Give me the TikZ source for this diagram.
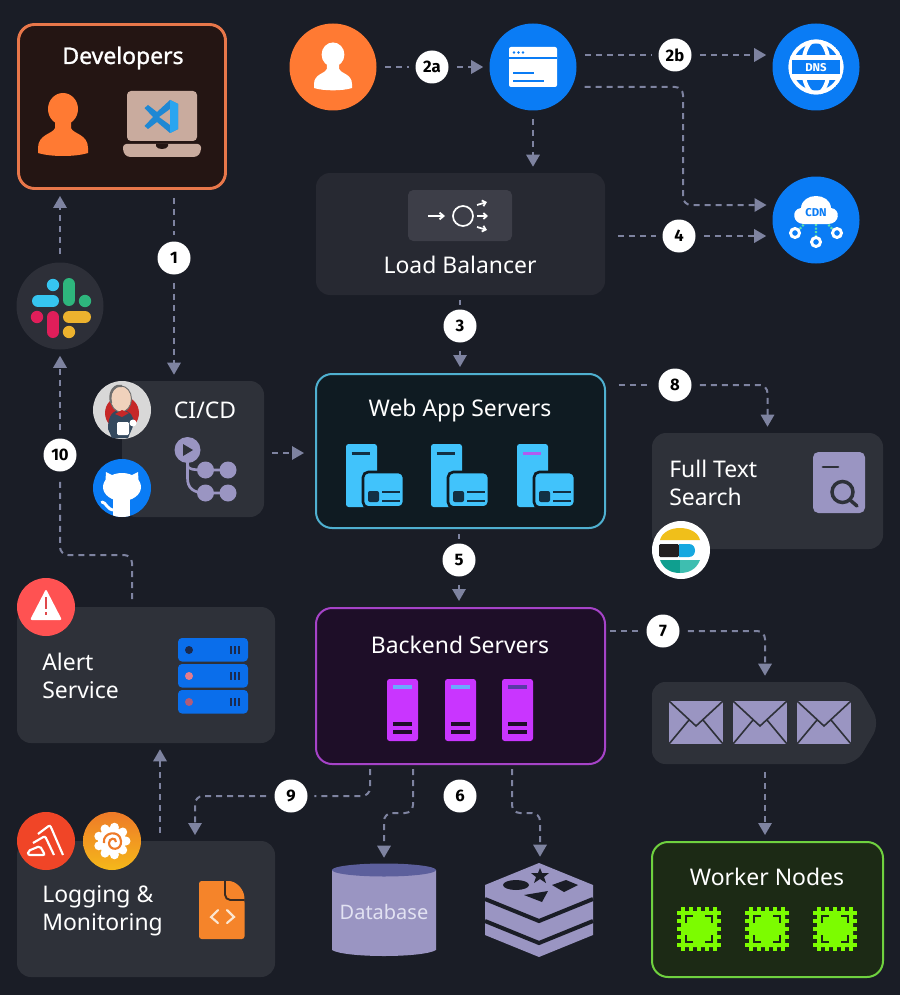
\documentclass[tikz,border=0pt]{standalone}
\usepackage{fontspec}
\setmainfont{Noto Sans}
\newfontfamily\strongfont[FakeBold=1.3]{Noto Sans}
\newfontfamily\badgefont{Fira Sans}
\usetikzlibrary{arrows.meta}
\definecolor{bgdark}{HTML}{1A1D26}
\definecolor{cardgray}{HTML}{2E3139}
\definecolor{lbgray}{HTML}{272932}
\definecolor{lbinner}{HTML}{3D3E48}
\definecolor{wirecol}{HTML}{7E83A0}
\definecolor{lavender}{HTML}{9A95C2}
\definecolor{brandorange}{HTML}{FF7A33}
\definecolor{brandblue}{HTML}{0A7CF5}
\definecolor{webblue}{HTML}{41C3FB}
\definecolor{backpurple}{HTML}{C935FF}
\definecolor{chipgreen}{HTML}{7CFC00}
\definecolor{devfill}{HTML}{241513}
\definecolor{devline}{HTML}{E8774A}
\definecolor{webfill}{HTML}{0F1B22}
\definecolor{webline}{HTML}{4FB0D0}
\definecolor{webdark}{HTML}{123044}
\definecolor{backfill}{HTML}{1E0E28}
\definecolor{backline}{HTML}{A643C8}
\definecolor{backdash}{HTML}{B05CF0}
\definecolor{workfill}{HTML}{1C2A15}
\definecolor{workline}{HTML}{6FD13F}
\definecolor{slackdisc}{HTML}{2D2F38}
\definecolor{jenkinsdisc}{HTML}{D8D8D8}
\definecolor{alertred}{HTML}{FF5252}
\definecolor{seqred}{HTML}{F04527}
\definecolor{grafatop}{HTML}{EE7A28}
\definecolor{grafabot}{HTML}{F5B81A}
\definecolor{laptopskin}{HTML}{C9AB9E}
\definecolor{vsdark}{HTML}{1E88D4}
\definecolor{vslight}{HTML}{2AA5F0}
\definecolor{cdnline}{HTML}{58E0A8}
\definecolor{slackblue}{HTML}{36C5F0}
\definecolor{slackgreen}{HTML}{2EB67D}
\definecolor{slackyellow}{HTML}{ECB22E}
\definecolor{slackred}{HTML}{E01E5A}
\definecolor{jenkinsred}{HTML}{C62828}
\definecolor{jenkinsblue}{HTML}{34495E}
\definecolor{jenkinsskin}{HTML}{F0D2BC}
\definecolor{jenkinshair}{HTML}{6E6E6E}
\definecolor{lightdash}{HTML}{6AA9FF}
\definecolor{dimdash}{HTML}{5A3AA8}
\definecolor{elastyellow}{HTML}{F0BF1A}
\definecolor{elastdark}{HTML}{231F20}
\definecolor{elastblue}{HTML}{17A8E0}
\definecolor{elastteal}{HTML}{0F9F8F}
\definecolor{elastmint}{HTML}{3EBEB0}
\definecolor{alertmark}{HTML}{E0484C}
\definecolor{stackblue}{HTML}{0A6EEB}
\definecolor{dotdark}{HTML}{1B2A4E}
\definecolor{dotpink}{HTML}{E57C8C}
\definecolor{dotmauve}{HTML}{B05C7A}
\definecolor{docorange}{HTML}{F5842A}
\definecolor{docline}{HTML}{3A2A20}
\definecolor{docmark}{HTML}{FBE6D0}
\definecolor{dbtop}{HTML}{5C5F9C}
\definecolor{dbtext}{HTML}{E2E2F2}
\tikzset{
 boxsize/.style 2 args={minimum width=#1*0.75pt, minimum height=#2*0.75pt},
 card/.style={rectangle, inner sep=0pt, fill=cardgray, rounded corners=10.5pt},
 framed/.style={card, line width=1.5pt, rounded corners=12pt},
 plain/.style={rectangle, inner sep=0pt},
 title/.style={text=white, inner sep=0pt, font=\fontsize{17.2}{21}\selectfont, align=left},
 bigdisc/.style={circle, inner sep=0pt, minimum size=65.25pt},
 smalldisc/.style={circle, inner sep=0pt, minimum size=43.5pt},
 badge/.style={circle, inner sep=0pt, fill=white, text=black, minimum size=24.75pt,
  font=\badgefont\bfseries\fontsize{12.5}{12.5}\selectfont},
 wire/.style={line width=1.5pt, dash pattern=on 4.5pt off 3.75pt, color=wirecol,
  rounded corners=6pt, shorten <=6pt, shorten >=5pt},
 wirearrow/.style={wire, shorten >=4.5pt, -{Triangle[length=9pt,width=10pt]}},
 wirestub/.style={wire, shorten <=3.75pt, shorten >=3.5pt}
}
\newcommand{\personicon}[4]{
 \begin{scope}[shift={(#1,#2)}, scale=#3]
  \fill[#4] (0,-15) ellipse [x radius=15, y radius=16];
  \fill[#4] (-8,-4) -- (-8,4) .. controls (-10,10) and (-25,10) .. (-25,24) -- (-25,29)
   .. controls (-12,33) and (12,33) .. (25,29) -- (25,24)
   .. controls (25,10) and (10,10) .. (8,4) -- (8,-4) -- cycle;
 \end{scope}
}
\begin{document}
\begin{tikzpicture}[x=0.75pt,y=-0.75pt]
 \path[use as bounding box, fill=bgdark] (0,0) rectangle (900,995);

 \node[framed, boxsize={207}{164}, fill=devfill, draw=devline, line width=2.2pt] (dev) at (122,106.5) {};
 \node[card, boxsize={289}{122}, fill=lbgray] (lb) at (460.5,234) {};
 \node[framed, boxsize={289}{154}, fill=webfill, draw=webline] (web) at (460.5,451) {};
 \node[framed, boxsize={289}{156}, fill=backfill, draw=backline] (backend) at (460.5,686) {};
 \node[card, boxsize={142}{136}] (cicd) at (193,449) {};
 \node[card, boxsize={231}{116}] (fts) at (767.5,491) {};
 \node[framed, boxsize={231}{135}, fill=workfill, draw=workline] (workers) at (767.5,909.5) {};
 \node[card, boxsize={258}{136}] (alert) at (146,675) {};
 \node[card, boxsize={258}{136}] (logging) at (146,909) {};
 \fill[cardgray, rounded corners=10pt] (652,682) -- (856,682) -- (880,723) -- (856,764) -- (652,764) -- cycle;
 \node[plain, boxsize={228}{82}] (queue) at (765,723) {};

 \node[title, font=\strongfont\fontsize{17.2}{21}\selectfont] (devtext) at (123,58) {Developers};
 \node[title] (lbtext) at (460,265) {Load Balancer};
 \node[title] (webtext) at (460,411) {Web App Servers};
 \node[title] (backtext) at (460,645) {Backend Servers};
 \node[title] (citext) at (205,410) {CI/CD};
 \node[title, anchor=west] (ftstext) at (669,483) {Full Text\\Search};
 \node[title] (worktext) at (767,877) {Worker Nodes};
 \node[title, anchor=west] (alerttext) at (42,676) {Alert\\Service};
 \node[title, anchor=west] (logtext) at (42,911) {Logging \&\\Monitoring};

 \node[bigdisc, fill=brandorange] (user) at (333,67) {};
 \node[bigdisc, fill=brandblue] (browser) at (533,67) {};
 \node[bigdisc, fill=brandblue] (dns) at (816,67) {};
 \node[bigdisc, fill=brandblue] (cdn) at (816,220) {};
 \node[bigdisc, fill=slackdisc] (slack) at (60,306) {};
 \node[smalldisc, fill=jenkinsdisc] (jenkins) at (122,410) {};
 \node[smalldisc, fill=brandblue] (github) at (122,488) {};
 \node[smalldisc, fill=white] (elastic) at (681,550) {};
 \node[smalldisc, fill=alertred] (alarm) at (46,607) {};
 \node[smalldisc, fill=seqred] (seq) at (46,841) {};
 \node[smalldisc, top color=grafatop, bottom color=grafabot] (grafana) at (112,841) {};

 \personicon{63}{124}{1}{brandorange}
 \personicon{333}{66}{0.76}{white}

 \fill[laptopskin, rounded corners=3pt] (127,91) rectangle (197,141);
 \fill[laptopskin, rounded corners=2.5pt] (123,144) -- (201,144) -- (201,152) -- (197,157) -- (127,157) -- (123,152) -- cycle;
 \fill[devfill] (156,144) -- (168,144) -- (168,146) .. controls (167,150) and (157,150) .. (156,146) -- cycle;
 \fill[vsdark, even odd rule] (144.5,108) -- (148,105) -- (157,112) -- (170,100) -- (178,104) -- (178,129) -- (170,133) -- (157,122) -- (148,129) -- (144.5,126) -- (153,117) -- cycle
  (170,109) -- (170,125) -- (159,117) -- cycle;
 \fill[vslight] (170,100) -- (178,104) -- (178,129) -- (170,133) -- cycle;

 \fill[white, rounded corners=1.5pt] (509,47) rectangle (557,87);
 \draw[brandblue, line width=0.8pt] (509,58) -- (557,58);
 \foreach \d in {514,518.5,523} {
  \fill[brandblue] (\d,52.5) circle [radius=1.4];
 }
 \draw[brandblue, line width=1.4pt] (513,73) -- (534,73) (513,81) -- (544,81);

 \begin{scope}
  \clip (816,67) circle [radius=27.5];
  \fill[white] (816,67) circle [radius=27.5];
  \fill[brandblue] (816,67) circle [radius=23.5];
  \draw[white, line width=3pt] (816,67) ellipse [x radius=13, y radius=27];
  \fill[white] (780,55) rectangle (850,80);
  \fill[brandblue] (792,60) rectangle (840,74.5);
 \end{scope}
 \node[text=white, inner sep=0pt, font=\badgefont\bfseries\fontsize{8.5}{8.5}\selectfont] (dnstext) at (816,67.5) {DNS};

 \draw[cdnline, line width=1.6pt, dash pattern=on 1.5pt off 1.2pt] (806,222) -- (797,232) (816,224) -- (816,240) (826,222) -- (835,232);
 \foreach \cx/\cy in {795/233,816/242,837/233} {
  \draw[white, line width=2.2pt, fill=brandblue] (\cx,\cy) circle [radius=4.5];
 }
 \fill[white] (804,224) .. controls (792,224) and (791,209) .. (801,208) .. controls (802,192) and (830,192) .. (831,208) .. controls (841,209) and (840,224) .. (828,224) -- cycle;
 \node[text=brandblue, inner sep=0pt, font=\badgefont\bfseries\fontsize{8.5}{8.5}\selectfont] (cdntext) at (816,212.5) {CDN};

 \fill[lbinner, rounded corners=4pt] (408,190) rectangle (512,241);
 \draw[white, line width=1.4pt, -{Straight Barb[length=3pt,width=5pt]}] (428,216) -- (445,216);
 \draw[white, line width=1.3pt] (463,216) circle [radius=10];
 \draw[white, line width=1.3pt, -{Straight Barb[length=2.5pt,width=4.5pt]}] (477,205) -- (487,202);
 \draw[white, line width=1.3pt, -{Straight Barb[length=2.5pt,width=4.5pt]}] (477,216) -- (488,216);
 \draw[white, line width=1.3pt, -{Straight Barb[length=2.5pt,width=4.5pt]}] (477,227) -- (487,230);

 \foreach \lcol/\ax/\ay/\bx/\by/\dx/\dy in {slackblue/38/301/53/301/53/285,slackgreen/69/284/69/300/85/301,
  slackyellow/69/317/85/317/69/332,slackred/53/317/53/332/37/317} {
  \draw[\lcol, line width=9pt, line cap=round] (\ax,\ay) -- (\bx,\by);
  \fill[\lcol] (\dx,\dy) circle [radius=6.2];
 }

 \fill[jenkinsred] (122,413) circle [radius=17];
 \fill[jenkinsblue] (108,429) .. controls (108,414) and (114,410) .. (121,410) .. controls (130,410) and (134,416) .. (134,424) -- (128,438) -- (112,438) -- cycle;
 \fill[jenkinsskin, draw=jenkinshair, line width=0.7pt] (121,399) ellipse [x radius=10.5, y radius=13];
 \draw[jenkinshair, line width=1.6pt] (111,403) .. controls (108,390) and (116,384) .. (122,386);
 \fill[white, rounded corners=1pt] (117,422) rectangle (129,435);
 \fill[white] (133,423) circle [radius=3.5];
 \fill[jenkinsred] (115,414) -- (122,417) -- (129,413) -- (122,410) -- cycle;

 \begin{scope}
  \clip (122,488) circle [radius=29];
  \fill[white] (122,487) ellipse [x radius=19, y radius=14];
  \fill[white] (105,488) -- (106,472) -- (116,477) -- (128,477) -- (138,472) -- (139,488) -- cycle;
  \fill[white] (113,495) rectangle (130,520);
  \draw[white, line width=2.2pt, line cap=round] (102,502) .. controls (106,502) and (107,510) .. (114,510);
 \end{scope}

 \draw[lavender, line width=2pt] (187.5,455) -- (187.5,478) .. controls (187.5,488) and (193,493) .. (206,493) -- (228,493)
  (187.5,465) .. controls (187.5,469) and (192,470) .. (206,470) -- (228,470);
 \fill[lavender] (187.5,450) circle [radius=13];
 \foreach \nx/\ny in {205.5/470,228/470,205.5/493,228/493} {
  \fill[lavender] (\nx,\ny) circle [radius=8.5];
 }
 \fill[cardgray] (183,444) -- (193,450) -- (183,456) -- cycle;

 \foreach \sx/\dashcol in {346/webdark,431/webdark,517/backdash} {
  \begin{scope}[shift={(\sx,444)}]
   \fill[webblue, rounded corners=2pt] (0,0) rectangle (31,63);
   \draw[\dashcol, line width=2.4pt] (5.5,9.5) -- (24,9.5);
   \draw[webfill, line width=2pt, fill=webblue, rounded corners=4pt] (17,28) rectangle (58,63.5);
   \fill[webdark, rounded corners=1.5pt] (22,47) rectangle (33,58);
   \draw[webdark, line width=2pt] (36,48) -- (54,48) (36,57) -- (54,57);
  \end{scope}
 }

 \foreach \sx/\dashcol in {387/lightdash,445/lightdash,502/dimdash} {
  \begin{scope}[shift={(\sx,679)}]
   \fill[backpurple, rounded corners=2pt] (0,0) rectangle (31,62);
   \draw[\dashcol, line width=2.4pt] (6,8) -- (25,8);
   \draw[backfill, line width=2.4pt] (6,45) -- (25,45) (6,53) -- (25,53);
  \end{scope}
 }

 \fill[lavender, rounded corners=4pt] (813,452) rectangle (865,513);
 \draw[cardgray, line width=2.2pt, line cap=round] (823,467) -- (838,467);
 \draw[cardgray, line width=2.6pt] (842.5,492) circle [radius=10.5];
 \draw[cardgray, line width=2.6pt, line cap=round] (850,500) -- (857,506);

 \fill[elastyellow] (660,540) .. controls (664,524) and (696,524) .. (700,540) -- cycle;
 \fill[elastdark, rounded corners=1pt] (659,544) rectangle (679,557);
 \fill[elastblue] (679,544) -- (689,544) .. controls (697,544) and (697,557) .. (689,557) -- (679,557) -- cycle;
 \fill[elastteal] (660,560) -- (680,560) -- (680,573) .. controls (672,573) and (664,570) .. (660,560) -- cycle;
 \fill[elastmint] (680,560) -- (700,560) .. controls (696,570) and (688,573) .. (680,573) -- cycle;

 \fill[white, rounded corners=1.5pt] (46,589) -- (62,620) -- (30,620) -- cycle;
 \draw[alertmark, line width=1.6pt] (46,597) -- (46,609) (46,612) -- (46,615);

 \foreach \ry/\dotcol in {638/dotdark,664/dotpink,690/dotmauve} {
  \fill[stackblue, rounded corners=3pt] (178,\ry) rectangle (248,\ry+23.5);
  \fill[\dotcol] (189,\ry+12) circle [radius=4];
  \foreach \tx in {231,235,239} {
   \draw[dotdark, line width=1pt] (\tx,\ry+8) -- (\tx,\ry+16);
  }
 }

 \draw[white, line width=1.6pt, rounded corners=1.5pt] (63,855) -- (50,825) -- (38,834)
  (54,855) -- (45,836) -- (33,843) (45,855) -- (40,846) -- (28,851) -- (28,855) -- cycle;
 \fill[white] (112,841) circle [radius=14];
 \foreach \a in {0,40,...,320} {
  \fill[white] ({112+14*cos(\a)},{841+14*sin(\a)}) circle [radius=4.5];
 }
 \draw[grafatop, line width=1.6pt] (104,843) .. controls (102,832) and (120,829) .. (121,841) .. controls (122,851) and (109,851) .. (109,843) .. controls (109,838) and (116,837) .. (116,842);

 \fill[docorange, rounded corners=2pt] (199,881) -- (226,881) .. controls (236,881) and (244,889) .. (244.5,900) -- (244.5,939) -- (199,939) -- cycle;
 \draw[docline, line width=1.4pt, rounded corners=4pt] (225,881) -- (225,900) -- (244.5,900);
 \draw[docmark, line width=1.6pt, line cap=round] (218,910) -- (211,917) -- (218,923) (227,910) -- (234,917) -- (227,923);

 \foreach \ex in {669,733,797} {
  \fill[lavender] (\ex,701) rectangle (\ex+54,744);
  \draw[cardgray, line width=1.2pt] (\ex,701) -- (\ex+27,726) -- (\ex+54,701)
   (\ex,744) -- (\ex+20,720) (\ex+54,744) -- (\ex+34,720);
 }

 \foreach \ex in {699,767,835} {
  \begin{scope}[shift={(\ex,929)}]
   \foreach \p in {-16,-8,0,8,16} {
    \draw[chipgreen, line width=2.6pt] (\p,-22) -- (\p,22) (-22,\p) -- (22,\p);
   }
   \fill[chipgreen, rounded corners=2pt] (-18,-18) rectangle (18,18);
   \draw[workfill, line width=1.5pt] (-13,-6) -- (-13,-13) -- (-6,-13) (6,-13) -- (13,-13) -- (13,-6)
    (13,6) -- (13,13) -- (6,13) (-6,13) -- (-13,13) -- (-13,6);
  \end{scope}
 }

 \fill[lavender] (332,870) -- (332,950) .. controls (345,958) and (423,958) .. (436,950) -- (436,870) -- cycle;
 \fill[dbtop] (384,870) ellipse [x radius=52, y radius=6.5];
 \node[plain, boxsize={104}{92}] (db) at (384,910) {};
 \node[text=dbtext, inner sep=0pt, font=\fontsize{15}{18}\selectfont] (dbtext) at (384,912) {Database};

 \fill[lavender] (539,863) -- (593,885) -- (593,935) -- (539,957) -- (485,935) -- (485,885) -- cycle;
 \draw[bgdark, line width=3pt] (485,899) -- (539,921) -- (593,899) (485,921) -- (539,943) -- (593,921);
 \fill[bgdark] (516,885) ellipse [x radius=13, y radius=5];
 \fill[bgdark] (552,885) -- (566,880) -- (578,885) -- (564,892) -- cycle;
 \fill[bgdark] (524,895) -- (548,891) -- (542,902) -- cycle;
 \fill[bgdark] (540,868) -- (542,873) -- (549,873) -- (544,877) -- (546,883) -- (540,879) -- (534,883) -- (536,877) -- (531,873) -- (538,873) -- cycle;
 \node[plain, boxsize={108}{94}] (redis) at (540,910) {};

 \node[badge] (b1) at (174,258) {1};
 \node[badge] (b2a) at (432,67) {2a};
 \node[badge] (b2b) at (675,55) {2b};
 \node[badge] (b3) at (460,326) {3};
 \node[badge] (b4) at (679,236) {4};
 \node[badge] (b5) at (459,560) {5};
 \node[badge] (b6) at (460,796) {6};
 \node[badge] (b7) at (663,631) {7};
 \node[badge] (b8) at (675,385) {8};
 \node[badge] (b9) at (291,796) {9};
 \node[badge] (b10) at (60,455) {10};

 \coordinate (browserlow) at (576.5,87);
 \coordinate (cdnbend) at (683,146);
 \coordinate (cdnhigh) at (772.5,205);
 \coordinate (webin) at (316,453);
 \coordinate (alertup) at (132,607);
 \coordinate (bend10) at (60,555);
 \coordinate (dbdrop) at (413,813);
 \coordinate (redisdrop) at (512,813);
 \coordinate (logdrop) at (370,796);
 \coordinate (logfall) at (195,841);
 \coordinate (logrise) at (160,841);

 \draw[wire] (dev.south -| b1) -- (b1);
 \draw[wirearrow] (b1) -- (b1 |- cicd.north);
 \draw[wirearrow] (slack) -- (slack |- dev.south);
 \draw[wirearrow] (b10) -- (slack);
 \draw[wire] (alertup) |- (bend10) -- (b10);
 \draw[wire] (user) -- (b2a);
 \draw[wirearrow] (b2a) -- (browser);
 \draw[wire] (browser.east |- b2b) -- (b2b);
 \draw[wirearrow] (b2b) -- (dns.west |- b2b);
 \draw[wirearrow] (browserlow) -| (cdnbend) |- (cdnhigh);
 \draw[wirearrow] (browser) -- (browser |- lb.north);
 \draw[wire, shorten <=9.5pt] (lb.east |- b4) -- (b4);
 \draw[wirearrow] (b4) -- (cdn.west |- b4);
 \draw[wirestub] (lb.south -| b3) -- (b3);
 \draw[wirearrow] (b3) -- (b3 |- web.north);
 \draw[wirearrow, shorten >=9pt] (webin -| cicd.east) -- (webin);
 \draw[wire, shorten <=9.5pt] (web.east |- b8) -- (b8);
 \draw[wirearrow] (b8) -| (fts.north);
 \draw[wirestub] (web.south -| b5) -- (b5);
 \draw[wirearrow] (b5) -- (b5 |- backend.north);
 \draw[wire, shorten <=3pt, shorten >=2.5pt] (backend.east |- b7) -- (b7);
 \draw[wirearrow] (b7) -| (queue.north);
 \draw[wirearrow] (queue) -- (queue |- workers.north);
 \draw[wirearrow, shorten <=3pt] (dbdrop |- backend.south) -- (dbdrop) -| (db.north);
 \draw[wirearrow, shorten <=3pt] (redisdrop |- backend.south) -- (redisdrop) -| (redis.north);
 \draw[wire, shorten <=3pt] (logdrop |- backend.south) -- (logdrop) -- (b9);
 \draw[wirearrow] (b9) -| (logfall);
 \draw[wirearrow] (logrise) -- (logrise |- alert.south);
\end{tikzpicture}
\end{document}
